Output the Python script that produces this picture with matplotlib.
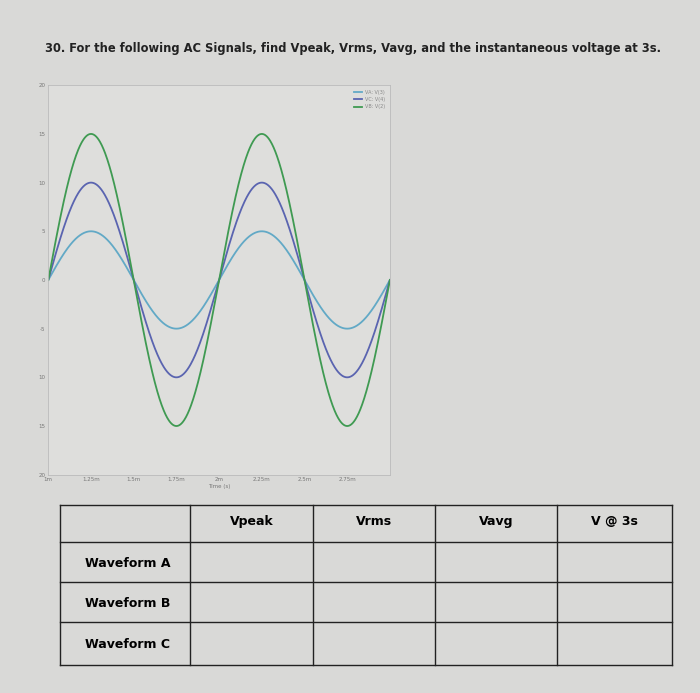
import numpy as np
import matplotlib
matplotlib.use("Agg")
import matplotlib.pyplot as plt

series_names = ["VA: V(3)", "VC: V(4)", "VB: V(2)"]
amplitudes = [5, 10, 15]          # volts
colors = ["#62a9c6", "#5a64b0", "#3f9a52"]
freq_hz = 1000.0
t_start, t_end = 1e-3, 3e-3
xticks = [1e-3, 1.25e-3, 1.5e-3, 1.75e-3, 2e-3, 2.25e-3, 2.5e-3, 2.75e-3]
xticklabels = ["1m", "1.25m", "1.5m", "1.75m", "2m", "2.25m", "2.5m", "2.75m"]
yticks = [-20, -15, -10, -5, 0, 5, 10, 15, 20]
yticklabels = ["20", "15", "10", "-5", "0", "5", "10", "15", "20"]
col_headers = ["", "Vpeak", "Vrms", "Vavg", "V @ 3s"]
row_labels = ["Waveform A", "Waveform B", "Waveform C"]
title = "30. For the following AC Signals, find Vpeak, Vrms, Vavg, and the instantaneous voltage at 3s."

bg = "#d9d9d7"
fig = plt.figure(figsize=(7, 6.93), dpi=100, facecolor=bg)
fig.text(0.064, 0.925, title, fontsize=8.3, fontweight="bold", color="#222222")

ax = fig.add_axes([0.069, 0.315, 0.488, 0.562], facecolor="#dededc")
t = np.linspace(t_start, t_end, 800)
for name, a, c in zip(series_names, amplitudes, colors):
    ax.plot(t, a * np.sin(2 * np.pi * freq_hz * (t - t_start)), color=c, lw=1.3, label=name)
ax.set_xlim(t_start, t_end)
ax.set_ylim(-20, 20)
ax.set_xticks(xticks)
ax.set_xticklabels(xticklabels, fontsize=4, color="#777777")
ax.set_yticks(yticks)
ax.set_yticklabels(yticklabels, fontsize=4, color="#777777")
ax.tick_params(length=0, pad=2)
ax.set_xlabel("Time (s)", fontsize=4, color="#777777", labelpad=1)
for s in ax.spines.values():
    s.set_color("#bbbbbb"); s.set_linewidth(0.6)
ax.legend(loc="upper right", fontsize=3.5, frameon=False, handlelength=1.5, labelcolor="#888888")

tab = fig.add_axes([0, 0, 1, 1], facecolor="none")
tab.set_xlim(0, 700); tab.set_ylim(693, 0); tab.axis("off")
xs = [60, 190, 313, 435, 557, 672]
ys = [505, 542, 582, 622, 665]
for x in xs:
    tab.plot([x, x], [ys[0], ys[-1]], color="#222222", lw=1)
for y in ys:
    tab.plot([xs[0], xs[-1]], [y, y], color="#222222", lw=1)
for i, h in enumerate(col_headers):
    if h:
        tab.text((xs[i] + xs[i + 1]) / 2, 520, h, ha="center", va="center_baseline", fontsize=9, fontweight="bold")
for j, r in enumerate(row_labels):
    tab.text(85, (ys[j + 1] + ys[j + 2]) / 2, r, ha="left", va="center_baseline", fontsize=9, fontweight="bold")

fig.savefig("out.png", dpi=100, facecolor=bg)
